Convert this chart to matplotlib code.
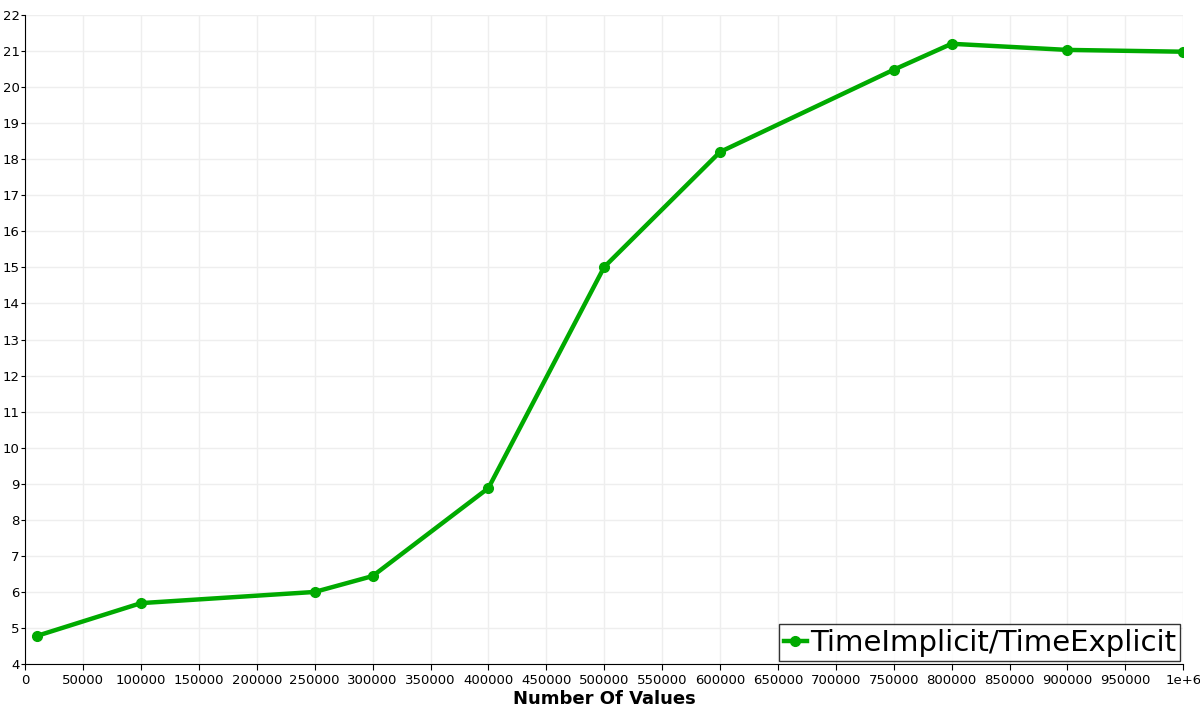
import matplotlib
matplotlib.use("Agg")
import matplotlib.pyplot as plt

num_values = [10000, 100000, 250000, 300000, 400000, 500000, 600000, 750000, 800000, 900000, 1000000]
ratio = [4.78, 5.69, 6.0, 6.44, 8.88, 15.01, 18.2, 20.48, 21.2, 21.03, 20.98]
xticks = list(range(0, 1000001, 50000))
xlabels = [str(v) for v in xticks[:-1]] + ["1e+6"]
yticks = list(range(4, 23))

fig = plt.figure(figsize=(12, 7.11), dpi=100)
ax = fig.add_axes([0.021, 0.066, 0.965, 0.913])
ax.plot(num_values, ratio, color="#00aa00", lw=3.2, marker="o", ms=7,
        label="TimeImplicit/TimeExplicit")
ax.set_xlim(0, 1000000)
ax.set_ylim(4, 22)
ax.set_xticks(xticks)
ax.set_xticklabels(xlabels, fontsize=9.5)
ax.set_yticks(yticks)
ax.tick_params(axis="y", labelsize=9.5, length=3, pad=1)
ax.tick_params(axis="x", length=4)
ax.grid(True, color="#eeeeee", lw=1)
for s in ["top", "right"]:
    ax.spines[s].set_visible(False)
ax.set_xlabel("Number Of Values", fontsize=13, fontweight="bold", labelpad=2)
leg = ax.legend(loc="lower right", fontsize=21, frameon=True, fancybox=False,
                handlelength=0.8, handletextpad=0.1, borderpad=0.15, borderaxespad=0.1)
leg.get_frame().set_edgecolor("black")
fig.savefig("out.png", dpi=100)
